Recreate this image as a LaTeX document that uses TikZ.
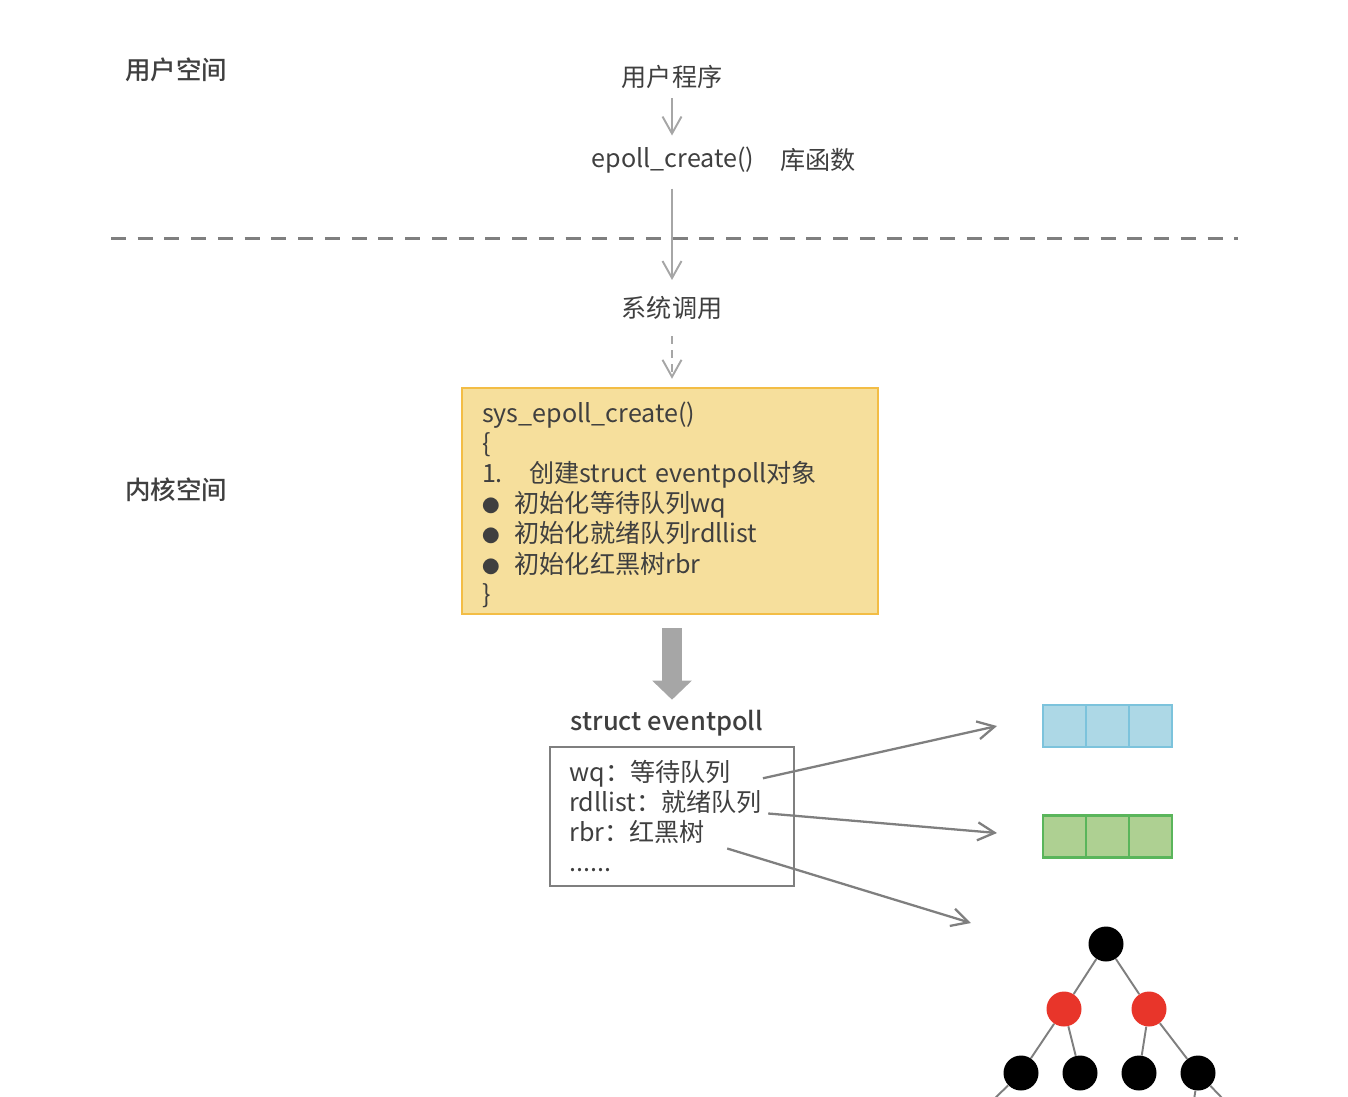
\documentclass[tikz,border=0pt]{standalone}
\usepackage{fontspec}
\setmainfont{Noto Sans CJK SC}[BoldFont={Noto Sans CJK SC Medium}]
\usetikzlibrary{arrows.meta, positioning}

\definecolor{txtgray}{HTML}{3F3F3F}
\definecolor{arrgray}{HTML}{A6A6A6}
\definecolor{linegray}{HTML}{7F7F7F}
\definecolor{boxyellow}{HTML}{F6DF9C}
\definecolor{boxorange}{HTML}{F3BD45}
\definecolor{qblue}{HTML}{ADD8E6}
\definecolor{qblueline}{HTML}{7CC3DC}
\definecolor{qgreen}{HTML}{AED092}
\definecolor{qgreenline}{HTML}{5AB55B}
\definecolor{rbred}{HTML}{E8352A}

\tikzset{
  txt/.style={font=\fontsize{14.3pt}{17.1pt}\selectfont, text=txtgray, inner sep=0pt},
  heading/.style={txt, font=\fontsize{14.5pt}{17pt}\selectfont\bfseries},
  flow/.style={arrgray, line width=1.1pt, -{Straight Barb[length=0.34cm, width=0.38cm]}},
  ptr/.style={linegray, line width=1.3pt, -{Straight Barb[length=0.34cm, width=0.36cm]}},
  bigarrow/.style={arrgray, line width=0.39cm, -{Triangle[width=0.79cm, length=0.38cm, line width=0pt]}},
  cell/.style={draw, line width=1.3pt, minimum width=0.86cm, minimum height=0.84cm, inner sep=0pt},
  rbnode/.style={circle, minimum size=0.7cm, inner sep=0pt},
}
\newcommand{\dotitem}{{\fontsize{10pt}{17pt}\selectfont ●}\hspace{0.6em}}

\begin{document}
\begin{tikzpicture}[x=0.02cm, y=-0.02cm]
    \useasboundingbox (0,0) rectangle (1348,1096);

    % Space labels
    \node[heading] (userspace) at (176,70) {用户空间};
    \node[heading] (kernspace) at (176,490) {内核空间};

    % Border between user and kernel space
    \draw[linegray, line width=1.7pt, dash pattern=on 0.3cm off 0.235cm] (111,238) -- (1238,238);

    % Call chain
    \node[txt] (prog) at (672,77) {用户程序};
    \node[txt] (epoll) at (673,160) {epoll\_create()};
    \node[txt, right=0.5cm of epoll] (libfn) {库函数};
    \node[txt] (syscall) at (672,308) {系统调用};

    \node[txt, draw=boxorange, fill=boxyellow, line width=1.4pt, minimum width=8.32cm,
          minimum height=4.52cm, text width=7.52cm, inner xsep=0.4cm, align=left] (sysbox) at (670,501)
        {\rule{0pt}{16pt}sys\_epoll\_create()\\
         \{\\
         1.\hspace{1.05em}创建struct eventpoll对象\\
         \dotitem 初始化等待队列wq\\
         \dotitem 初始化就绪队列rdllist\\
         \dotitem 初始化红黑树rbr\\
         \}};

    \draw[flow, shorten <=0.18cm, shorten >=0.22cm] (prog.south) -- (prog.south |- epoll.north);
    \draw[flow, shorten <=0.3cm, shorten >=0.32cm] (prog.south |- epoll.south) -- (syscall.north);
    \draw[flow, dash pattern=on 0.16cm off 0.12cm, shorten <=0.32cm, shorten >=0.16cm]
        (syscall.south) -- (syscall.south |- sysbox.north);

    % struct eventpoll
    \node[heading] (ephead) at (667,723) {struct eventpoll};
    \draw[bigarrow, shorten <=0.26cm, shorten >=0.2cm] (syscall |- sysbox.south) -- (syscall |- ephead.north);

    \node[draw=linegray, line width=1.3pt, minimum width=4.88cm, minimum height=2.78cm] (epbox) at (672,816.5) {};
    \node[txt, anchor=base west] (wqline) at (569,781) {wq：等待队列};
    \node[txt, anchor=base west] (rdline) at (569,811) {rdllist：就绪队列};
    \node[txt, anchor=base west] (rbline) at (569,841) {rbr：红黑树};
    \node[txt, anchor=base west] (moreline) at (569,871) {......};

    % Queues
    \foreach \i/\x in {1/1064.5, 2/1107.5, 3/1150.5} {
        \node[cell, draw=qblueline, fill=qblue] (wq\i) at (\x,726) {};
        \node[cell, draw=qgreenline, fill=qgreen] (rd\i) at (\x,836.5) {};
    }

    % Pointers
    \coordinate (wqtip) at (997,726);
    \coordinate (rdtip) at (997,833);
    \coordinate (rbtip) at (971,923);
    \draw[ptr] ([xshift=0.64cm, yshift=-0.1cm]wqline.east) -- (wqtip);
    \draw[ptr] ([xshift=0.12cm, yshift=-0.24cm]rdline.east) -- (rdtip);
    \draw[ptr] ([xshift=0.44cm, yshift=-0.34cm]rbline.east) -- (rbtip);

    % Red-black tree
    \node[rbnode, fill=black] (root) at (1106,944) {};
    \node[rbnode, fill=rbred] (red1) at (1064,1009) {};
    \node[rbnode, fill=rbred] (red2) at (1149,1009) {};
    \foreach \i/\x in {1/1021, 2/1080, 3/1139, 4/1198}
        \node[rbnode, fill=black] (leaf\i) at (\x,1073) {};
    \coordinate (cut1) at (993,1100);
    \coordinate (cut2) at (1194,1100);
    \coordinate (cut3) at (1224,1100);
    \draw[linegray, line width=1.1pt] (root) -- (red1) (root) -- (red2)
        (red1) -- (leaf1) (red1) -- (leaf2) (red2) -- (leaf3) (red2) -- (leaf4)
        (leaf1) -- (cut1) (leaf4) -- (cut2) (leaf4) -- (cut3);
\end{tikzpicture}
\end{document}
